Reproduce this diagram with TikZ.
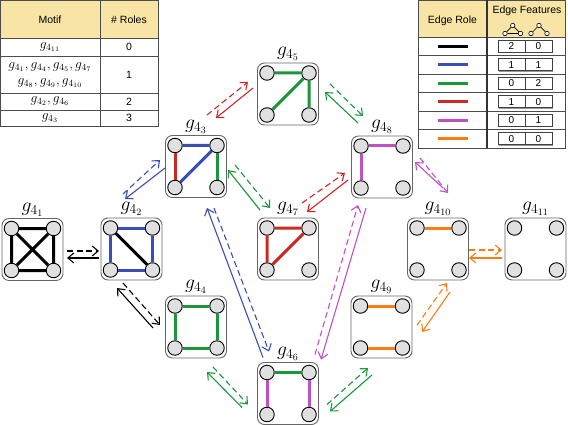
\RequirePackage{fix-cm}
\documentclass[tikz,border=0pt]{standalone}
\usepackage{fontspec}
\newfontfamily\tabfont{Liberation Sans}
\usetikzlibrary{calc,arrows.meta,shadows}
\definecolor{cblue}{RGB}{58,78,184}
\definecolor{cgreen}{RGB}{26,150,60}
\definecolor{cred}{RGB}{205,40,35}
\definecolor{cpurple}{RGB}{190,80,200}
\definecolor{corange}{RGB}{250,125,20}
\definecolor{hdr}{RGB}{248,228,165}
\newcommand\motif[4]{%
  \node[mbox] (#1) at (#2,#3) {};
  \node[vtx] (#1a) at ($(#1)+(-21,-21)$) {};
  \node[vtx] (#1b) at ($(#1)+(21,-21)$) {};
  \node[vtx] (#1c) at ($(#1)+(-21,21)$) {};
  \node[vtx] (#1d) at ($(#1)+(21,21)$) {};
  \node[mlabel] (#1l) at (#1.north) {$g_{4_{#4}}$};
}
\newcommand\arr[5]{\draw[#1] ($(#2)+#3$) -- ($(#4)+#5$);}
\begin{document}
\begin{tikzpicture}[x=1pt,y=-1pt,
  mbox/.style={draw=black!60, line width=0.9pt, rounded corners=7pt, minimum width=61pt, minimum height=62pt, inner sep=0pt, fill=white},
  vtx/.style={circle, draw=black, fill=black!12, line width=0.9pt, minimum size=14.5pt, inner sep=0pt},
  medge/.style={line width=3pt, draw=#1},
  mlabel/.style={anchor=south, inner sep=1.5pt, font=\fontsize{19.5}{21}\selectfont},
  darr/.style={draw=#1, line width=1.1pt, dash pattern=on 6pt off 3.5pt, -{Straight Barb[length=6pt,width=10pt]}},
  sarr/.style={draw=#1, line width=1.1pt, -{Straight Barb[length=6pt,width=10pt]}},
  tline/.style={draw=black!70, line width=0.9pt},
  ttext/.style={font=\tabfont\fontsize{10.5}{12}\selectfont, inner sep=0pt},
  tmath/.style={font=\fontsize{13.5}{15}\selectfont, inner sep=0pt},
  fcell/.style={draw=black!75, line width=0.8pt, fill=white, minimum width=27pt, minimum height=12pt, inner sep=0pt, font=\tabfont\fontsize{10}{11}\selectfont, drop shadow={shadow xshift=1.2pt, shadow yshift=-1.2pt, fill=black!50, opacity=0.8}},
  tdot/.style={circle, draw=black, fill=white, line width=0.6pt, minimum size=4.5pt, inner sep=0pt}
]
\useasboundingbox (0,0) rectangle (568,425);

% ---------- left table ----------
\fill[hdr] (0.5,0.5) rectangle (158,38);
\draw[tline] (0.5,0.5) rectangle (158,126);
\foreach \yy in {38,56,93,110} \draw[tline] (0.5,\yy) -- (158,\yy);
\draw[tline] (100,0.5) -- (100,126);
\node[ttext] (lh1) at (50,20) {Motif};
\node[ttext] (lh2) at (129,20) {\# Roles};
\node[tmath] (lr1) at (50,47) {$g_{4_{11}}$};
\node[ttext] (lv1) at (129,47) {0};
\node[tmath] (lr2a) at (50,67) {$g_{4_1}, g_{4_4}, g_{4_5}, g_{4_7}$};
\node[tmath] (lr2b) at (50,83) {$g_{4_8}, g_{4_9}, g_{4_{10}}$};
\node[ttext] (lv2) at (129,75) {1};
\node[tmath] (lr3) at (50,101.5) {$g_{4_2}, g_{4_6}$};
\node[ttext] (lv3) at (129,101.5) {2};
\node[tmath] (lr4) at (50,118) {$g_{4_3}$};
\node[ttext] (lv4) at (129,118) {3};

% ---------- right table ----------
\fill[hdr] (418,0.5) rectangle (565,37);
\draw[tline] (418,0.5) rectangle (565,148);
\foreach \yy in {37,55.5,74,92.5,111,129.5} \draw[tline] (418,\yy) -- (565,\yy);
\draw[draw=black!80, line width=1.3pt] (487,0.5) -- (487,148);
\node[ttext] (rh1) at (452.5,21) {Edge Role};
\node[ttext] (rh2) at (527,11) {Edge Features};
\node[tdot] (ta) at (512.7,25.5) {};
\node[tdot] (tb) at (505,33.5) {};
\node[tdot] (tc) at (520.5,33.5) {};
\draw[line width=0.7pt] (ta) -- (tb) (tb) -- (tc) (tc) -- (ta);
\node[tdot] (wa) at (539,25.5) {};
\node[tdot] (wb) at (531,33.5) {};
\node[tdot] (wc) at (547,33.5) {};
\draw[line width=0.7pt] (wa) -- (wb) (wa) -- (wc);
\foreach \c/\va/\vb [count=\i] in {black/2/0, cblue/1/1, cgreen/0/2, cred/1/0, cpurple/0/1, corange/0/0}{
  \pgfmathsetmacro\yc{37+18.5*(\i-0.5)}
  \draw[line width=3pt, \c] (438,\yc) -- (468,\yc);
  \node[fcell] (fa\i) at (511.5,\yc) {\va};
  \node[fcell] (fb\i) at (538.5,\yc) {\vb};
}

% ---------- motifs ----------
\motif{m1}{32.5}{249.5}{1}
\motif{m2}{131.5}{249}{2}
\motif{m3}{196}{166.5}{3}
\motif{m4}{196}{327}{4}
\motif{m5}{288}{94}{5}
\motif{m6}{288}{393.5}{6}
\motif{m7}{288}{249}{7}
\motif{m8}{382}{167}{8}
\motif{m9}{381.5}{327}{9}
\motif{m10}{438}{249}{10}
\motif{m11}{535.5}{249}{11}

% edges
\draw[medge=black] (m1a) -- (m1b) (m1c) -- (m1d) (m1a) -- (m1c) (m1b) -- (m1d) (m1a) -- (m1d) (m1b) -- (m1c);
\draw[medge=cblue] (m2a) -- (m2b) (m2c) -- (m2d) (m2a) -- (m2c) (m2b) -- (m2d);
\draw[medge=black] (m2a) -- (m2d);
\draw[medge=cblue] (m3a) -- (m3b) (m3b) -- (m3c);
\draw[medge=cred] (m3a) -- (m3c);
\draw[medge=cgreen] (m3b) -- (m3d);
\draw[medge=cgreen] (m4a) -- (m4b) (m4c) -- (m4d) (m4a) -- (m4c) (m4b) -- (m4d);
\draw[medge=cgreen] (m5a) -- (m5b) (m5b) -- (m5c) (m5b) -- (m5d);
\draw[medge=cgreen] (m6a) -- (m6b);
\draw[medge=cpurple] (m6a) -- (m6c) (m6b) -- (m6d);
\draw[medge=cred] (m7a) -- (m7b) (m7a) -- (m7c) (m7b) -- (m7c);
\draw[medge=cpurple] (m8a) -- (m8b) (m8a) -- (m8c);
\draw[medge=corange] (m9a) -- (m9b) (m9c) -- (m9d);
\draw[medge=corange] (m10a) -- (m10b);

% ---------- arrows ----------
\arr{darr=black}{m1}{(34.5,1.5)}{m2}{(-32.5,2)}
\arr{sarr=black}{m2}{(-32.5,9)}{m1}{(34.5,8.5)}
\arr{darr=cblue}{m2}{(-8.5,-55)}{m3}{(-36,-6.5)}
\arr{sarr=cblue}{m3}{(-31,1.5)}{m2}{(-6.5,-50)}
\arr{darr=black}{m2}{(-8.5,34)}{m4}{(-36,-2)}
\arr{sarr=black}{m4}{(-43,1)}{m2}{(-14.5,39)}
\arr{darr=cred}{m3}{(11,-51.5)}{m5}{(-40,-12)}
\arr{sarr=cred}{m5}{(-35,-6)}{m3}{(20,-48.5)}
\arr{darr=cgreen}{m3}{(39,-1.5)}{m7}{(-18,-41)}
\arr{sarr=cgreen}{m7}{(-28,-39)}{m3}{(32,3.5)}
\arr{darr=cgreen}{m5}{(42,-10)}{m8}{(-19,-51)}
\arr{sarr=cgreen}{m8}{(-24,-44)}{m5}{(37,-2)}
\arr{darr=cred}{m7}{(14,-46)}{m8}{(-37,6)}
\arr{sarr=cred}{m8}{(-34,13)}{m7}{(19,-37)}
\arr{darr=cpurple}{m8}{(38,-9)}{m10}{(10,-56)}
\arr{sarr=cpurple}{m10}{(5,-61)}{m8}{(33,-5)}
\arr{darr=corange}{m10}{(31,1)}{m11}{(-33.5,1)}
\arr{sarr=corange}{m11}{(-33.5,9)}{m10}{(31,9)}
\arr{darr=corange}{m9}{(35.5,-2)}{m10}{(9,34)}
\arr{sarr=corange}{m10}{(12,43)}{m9}{(40.5,5)}
\arr{darr=cblue}{m3}{(18,41.5)}{m6}{(-19,-42)}
\arr{sarr=cblue}{m6}{(-25,-36)}{m3}{(11,41.5)}
\arr{darr=cpurple}{m6}{(27,-39)}{m8}{(-24,38)}
\arr{sarr=cpurple}{m8}{(-16,41)}{m6}{(33,-34)}
\arr{darr=cgreen}{m4}{(17,40)}{m6}{(-40,11)}
\arr{sarr=cgreen}{m6}{(-46,14)}{m4}{(11,45)}
\arr{darr=cgreen}{m6}{(39,11)}{m9}{(-13.5,41)}
\arr{sarr=cgreen}{m9}{(-9.5,48)}{m6}{(42,18)}
\end{tikzpicture}
\end{document}
